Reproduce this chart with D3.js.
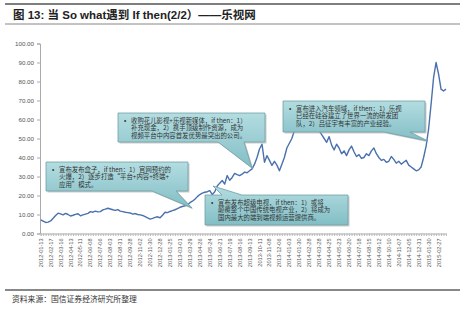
<!DOCTYPE html>
<html>
<head>
<meta charset="utf-8">
<script src="https://cdn.jsdelivr.net/npm/d3@7"></script>
<style>
  body { margin: 0; background: #fff; }
  svg { display: block; font-family: "Liberation Sans", "Noto Sans CJK SC", sans-serif; }
</style>
</head>
<body>
<div id="chart"></div>
<script>
// tick labels on the x axis (one every 4 weekly points)
var dateLabels = ["2012-01-13", "2012-02-17", "2012-03-16", "2012-04-13", "2012-05-11", "2012-06-08",
  "2012-07-06", "2012-08-03", "2012-08-31", "2012-09-28", "2012-11-02", "2012-11-30", "2012-12-28",
  "2013-01-25", "2013-03-01", "2013-03-29", "2013-04-26", "2013-05-24", "2013-06-21", "2013-07-19",
  "2013-08-16", "2013-09-13", "2013-10-11", "2013-11-08", "2013-12-06", "2014-01-03", "2014-01-30",
  "2014-02-28", "2014-03-28", "2014-04-25", "2014-05-23", "2014-06-20", "2014-07-18", "2014-08-15",
  "2014-09-12", "2014-10-10", "2014-11-07", "2014-12-05", "2014-12-31", "2015-01-30", "2015-02-27"]

// weekly close
var prices = [7.2, 6.5, 5.8, 6.0, 6.6, 8.0, 9.5, 10.7, 10.3, 9.8,
  10.6, 10.0, 9.2, 9.6, 10.1, 10.4, 9.3, 9.8, 10.2, 10.6,
  11.5, 11.2, 11.8, 11.4, 11.5, 12.4, 12.8, 13.3, 12.9, 12.5,
  12.2, 12.6, 11.8, 11.5, 11.2, 11.0, 10.8, 10.2, 10.5, 10.0,
  9.8, 9.5, 8.9, 8.2, 7.6, 8.0, 8.5, 8.8, 8.3, 9.6,
  11.2, 11.0, 11.6, 12.0, 12.5, 13.1, 13.8, 14.2, 14.6, 15.0,
  16.2, 17.0, 18.0, 19.4, 20.5, 21.2, 21.7, 22.0, 22.6, 20.5,
  22.0, 25.0, 26.5, 27.9, 26.0, 30.5, 28.0, 29.5, 31.6, 31.0,
  30.5, 31.2, 32.3, 32.0, 33.0, 34.0, 36.5, 40.0, 44.5, 47.0,
  37.5, 41.0, 38.5, 35.8, 38.0, 36.0, 33.0, 36.5, 40.0, 45.0,
  47.5, 50.0, 54.0, 57.7, 60.0, 58.0, 62.0, 65.0, 60.0, 56.0,
  59.0, 57.0, 54.0, 52.0, 50.0, 48.0, 51.0, 46.5, 44.0, 47.0,
  45.0, 42.0, 43.5, 41.0, 44.0, 46.0, 43.0, 40.5, 41.5, 39.5,
  40.0, 42.0, 41.0, 43.5, 45.0, 42.0, 40.0, 38.5, 39.0, 37.5,
  38.0, 40.5, 39.0, 37.0, 38.0, 36.5, 37.5, 38.5, 36.0, 35.0,
  34.0, 33.0, 33.5, 35.0, 40.0, 46.0, 55.0, 68.0, 82.0, 90.0,
  84.0, 76.0, 75.0, 76.0]

var yTicks = [0, 10, 20, 30, 40, 50, 60, 70, 80, 90, 100]

var notes = [
  ["宣布发布盒子，if then：1）官网预约的", "火爆，2）逐步打造“平台+内容+终端+", "应用”模式。"],
  ["收购花儿影视+乐视新媒体，if then：1）", "补充现金，2）携手顶级制作资源，成为", "视频平台中内容首发优势最突出的公司。"],
  ["宣布发布超级电视，if then：1）或将", "颠覆整个中国传统电视产业，2）将成为", "国内最大的端到端视频运营提供商。"],
  ["宣布进入汽车领域，if then：1）乐视", "已经在硅谷建立了世界一流的研发团", "队，2）吕征宇有丰富的产业经验。"]
]

var W = 465, H = 309
var svg = d3.select("#chart").append("svg")
  .attr("width", W).attr("height", H)

// header / footer rules
svg.append("line").attr("x1", 5).attr("x2", 460).attr("y1", 4).attr("y2", 4)
  .attr("stroke", "#555").attr("stroke-width", 1.5)
svg.append("line").attr("x1", 5).attr("x2", 460).attr("y1", 24).attr("y2", 24)
  .attr("stroke", "#888").attr("stroke-width", 1.2)
svg.append("line").attr("x1", 5).attr("x2", 460).attr("y1", 290).attr("y2", 290)
  .attr("stroke", "#888").attr("stroke-width", 1.8)

svg.append("text")
  .attr("x", 13).attr("y", 18.5)
  .attr("font-size", 11.5).attr("font-weight", "bold").attr("fill", "#222")
  .text("图 13:  当 So what遇到 If then(2/2）——乐视网")

svg.append("text")
  .attr("x", 12).attr("y", 302)
  .attr("font-size", 7.8).attr("fill", "#333")
  .attr("font-family", "'Noto Sans CJK SC', sans-serif")
  .text("资料来源：国信证券经济研究所整理")

var x = d3.scaleLinear().domain([0, prices.length - 1]).range([40.7, 446])
var y = d3.scaleLinear().domain([0, 100]).range([233.5, 43.5])

// y axis
var yAxis = svg.append("g")
  .attr("transform", "translate(40,0)")
  .call(d3.axisLeft(y).tickValues(yTicks).tickFormat(d3.format(".2f")).tickSize(3).tickPadding(3))
yAxis.select(".domain").attr("stroke", "#aaa")
yAxis.selectAll(".tick line").attr("stroke", "#aaa")
yAxis.selectAll("text").attr("font-size", 6.2).attr("fill", "#555")

// x axis: small tick each week, label every 4 weeks
var xAxis = svg.append("g")
  .attr("transform", "translate(0," + y(0) + ")")
  .call(d3.axisBottom(x).tickValues(d3.range(prices.length)).tickSize(2.5).tickFormat(""))
xAxis.select(".domain").attr("stroke", "#aaa")
xAxis.selectAll(".tick line").attr("stroke", "#bbb")

svg.append("g").selectAll("text")
  .data(dateLabels)
  .enter().append("text")
  .attr("transform", function (d, i) { return "translate(" + (x(i * 4) + 2) + "," + (y(0) + 5) + ") rotate(-90)" })
  .attr("text-anchor", "end")
  .attr("font-size", 5.6).attr("fill", "#555")
  .text(function (d) { return d })

// price line
var line = d3.line()
  .x(function (d, i) { return x(i) })
  .y(function (d) { return y(d) })
svg.append("path")
  .datum(prices)
  .attr("fill", "none")
  .attr("stroke", "#4a70ad")
  .attr("stroke-width", 1.4)
  .attr("stroke-linejoin", "round")
  .attr("d", line)

// callout boxes
var defs = svg.append("defs")
var grad = defs.append("linearGradient").attr("id", "boxfill")
  .attr("x1", 0).attr("y1", 0).attr("x2", 0).attr("y2", 1)
grad.append("stop").attr("offset", "0%").attr("stop-color", "#b3dde1")
grad.append("stop").attr("offset", "100%").attr("stop-color", "#82bec5")

// box: x, y, w, h, tail edge, tail from, tail to, tip
var boxes = [
  { x: 46, y: 162, w: 142, h: 29, edge: "bottom", a: 152, b: 176, tip: [192, 208] },
  { x: 118, y: 113, w: 147, h: 29, edge: "bottom", a: 218, b: 244, tip: [252, 168] },
  { x: 205, y: 195, w: 143, h: 30, edge: "top", a: 222, b: 242, tip: [213, 186] },
  { x: 283, y: 101, w: 142, h: 31, edge: "bottom", a: 384, b: 410, tip: [428, 141] }
]

function calloutPath(b) {
  var p = d3.path()
  var x0 = b.x, y0 = b.y, x1 = b.x + b.w, y1 = b.y + b.h
  p.moveTo(x0, y0)
  if (b.edge == "top") {
    p.lineTo(b.a, y0); p.lineTo(b.tip[0], b.tip[1]); p.lineTo(b.b, y0)
  }
  p.lineTo(x1, y0)
  p.lineTo(x1, y1)
  if (b.edge == "bottom") {
    p.lineTo(b.b, y1); p.lineTo(b.tip[0], b.tip[1]); p.lineTo(b.a, y1)
  }
  p.lineTo(x0, y1)
  p.closePath()
  return p.toString()
}

boxes.forEach(function (b, k) {
  var g = svg.append("g")
  g.append("path")
    .attr("d", calloutPath(b))
    .attr("transform", "translate(1.5,1.5)")
    .attr("fill", "#aaa").attr("opacity", 0.6)
  g.append("path")
    .attr("d", calloutPath(b))
    .attr("fill", "url(#boxfill)")
    .attr("stroke", "#6f9ea4").attr("stroke-width", 0.8)
  g.append("text")
    .attr("x", b.x + 6).attr("y", b.y + 9.5)
    .attr("font-size", 6.5).attr("fill", "#333")
    .text("•")
  g.selectAll("text.ln")
    .data(notes[k])
    .enter().append("text")
    .attr("class", "ln")
    .attr("x", b.x + 13)
    .attr("y", function (d, i) { return b.y + 9.5 + i * 7.6 })
    .attr("font-size", 6.4).attr("fill", "#333")
    .attr("font-family", "'Noto Sans CJK SC', sans-serif")
    .text(function (d) { return d })
})
</script>
</body>
</html>
